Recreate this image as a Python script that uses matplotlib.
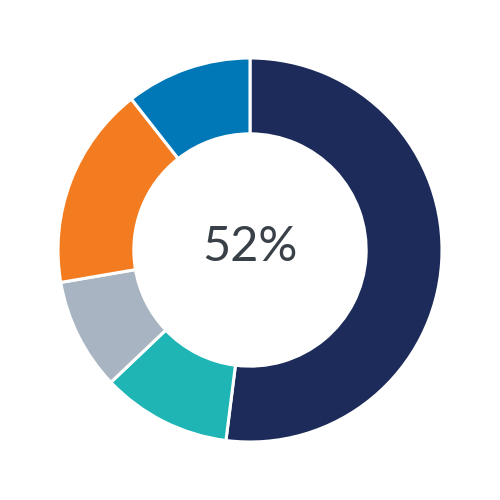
import matplotlib
matplotlib.use("Agg")
import matplotlib.pyplot as plt

# slice shares, clockwise from the top
labels = ["Navy", "Teal", "Gray", "Orange", "Blue"]
values = [52, 10.9, 9.4, 17.1, 10.6]
colors = ["#1c2b5a", "#1fb5b5", "#a9b4c2", "#f47c20", "#0077b6"]
center_label = "52%"

fig = plt.figure(figsize=(5, 5), dpi=100)
ax = fig.add_axes([0, 0, 1, 1])

ax.pie(values, colors=colors, startangle=90, counterclock=False,
       radius=1.0,
       wedgeprops=dict(width=0.395, edgecolor="white", linewidth=2.2))

ax.text(0, 0.015, center_label, ha="center", va="center",
        fontsize=35, family="Lato", color="#3a4048")

lim = 250 / 192
ax.set_xlim(-lim, lim)
ax.set_ylim(-lim, lim)
ax.set_aspect("equal")
ax.axis("off")

fig.savefig("out.png", dpi=100, facecolor="white")
